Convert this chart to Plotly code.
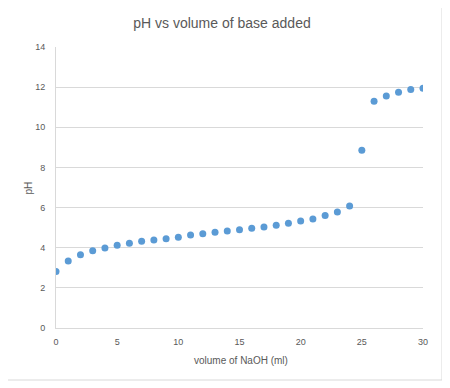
import plotly.graph_objects as go

volume_ml = list(range(0, 31))
ph_values = [2.82, 3.34, 3.65, 3.85, 3.99, 4.12, 4.22, 4.32, 4.39, 4.45,
             4.52, 4.63, 4.70, 4.77, 4.83, 4.90, 4.97, 5.03, 5.12, 5.22,
             5.33, 5.43, 5.60, 5.78, 6.08, 8.85, 11.30, 11.56, 11.74, 11.88,
             11.94]

x_ticks = [0, 5, 10, 15, 20, 25, 30]
y_ticks = [0, 2, 4, 6, 8, 10, 12, 14]

grey = "#595959"
font = "Liberation Sans, Arial, sans-serif"

fig = go.Figure()
fig.add_trace(go.Scatter(
    x=volume_ml, y=ph_values, mode="markers",
    marker=dict(color="#5B9BD5", size=7),
    showlegend=False,
))

# page has an 8px body margin; compensate so plot area lands at (56..423, 47..328)
OFF = 8
L, T = 56 - OFF, 47 - OFF
W, H = 442, 380
pw, ph = 367, 281
R = W - L - pw
B = H - T - ph

def px(xp):
    return (xp - OFF - L) / pw

def py(yp):
    return (T + ph - (yp - OFF)) / ph

fig.update_layout(
    width=W, height=H,
    margin=dict(l=L, r=R, t=T, b=B, autoexpand=False),
    paper_bgcolor="white", plot_bgcolor="white",
    title=dict(text="pH vs volume of base added", x=(222 - OFF) / W, xanchor="center",
               y=1 - (23 - OFF) / H, yanchor="middle",
               font=dict(family=font, size=14, color=grey)),
    xaxis=dict(range=[0, 30], tickvals=x_ticks, showgrid=False, zeroline=False,
               showline=True, linecolor="#D9D9D9", linewidth=1,
               ticks="", ticklabelstandoff=5, tickfont=dict(family=font, size=9, color=grey)),
    yaxis=dict(range=[0, 14], tickvals=y_ticks, showgrid=True, gridcolor="#D9D9D9",
               gridwidth=1, zeroline=False, showline=True, linecolor="#D9D9D9", linewidth=1,
               ticks="", ticklabelstandoff=8, tickfont=dict(family=font, size=9, color=grey)),
    annotations=[
        dict(text="volume of NaOH (ml)", xref="paper", yref="paper",
             x=px(241), y=py(360), xanchor="center", yanchor="middle", showarrow=False,
             font=dict(family=font, size=10, color=grey)),
        dict(text="pH", xref="paper", yref="paper", textangle=-90,
             x=px(27.5), y=py(188), xanchor="center", yanchor="middle", showarrow=False,
             font=dict(family=font, size=10, color=grey)),
    ],
)

fig.add_shape(type="rect", xref="paper", yref="paper",
              x0=px(4), x1=px(442), y0=py(380), y1=py(3.5),
              line=dict(color="#D9D9D9", width=1), fillcolor="rgba(0,0,0,0)", layer="above")

fig.write_html("out.html")
